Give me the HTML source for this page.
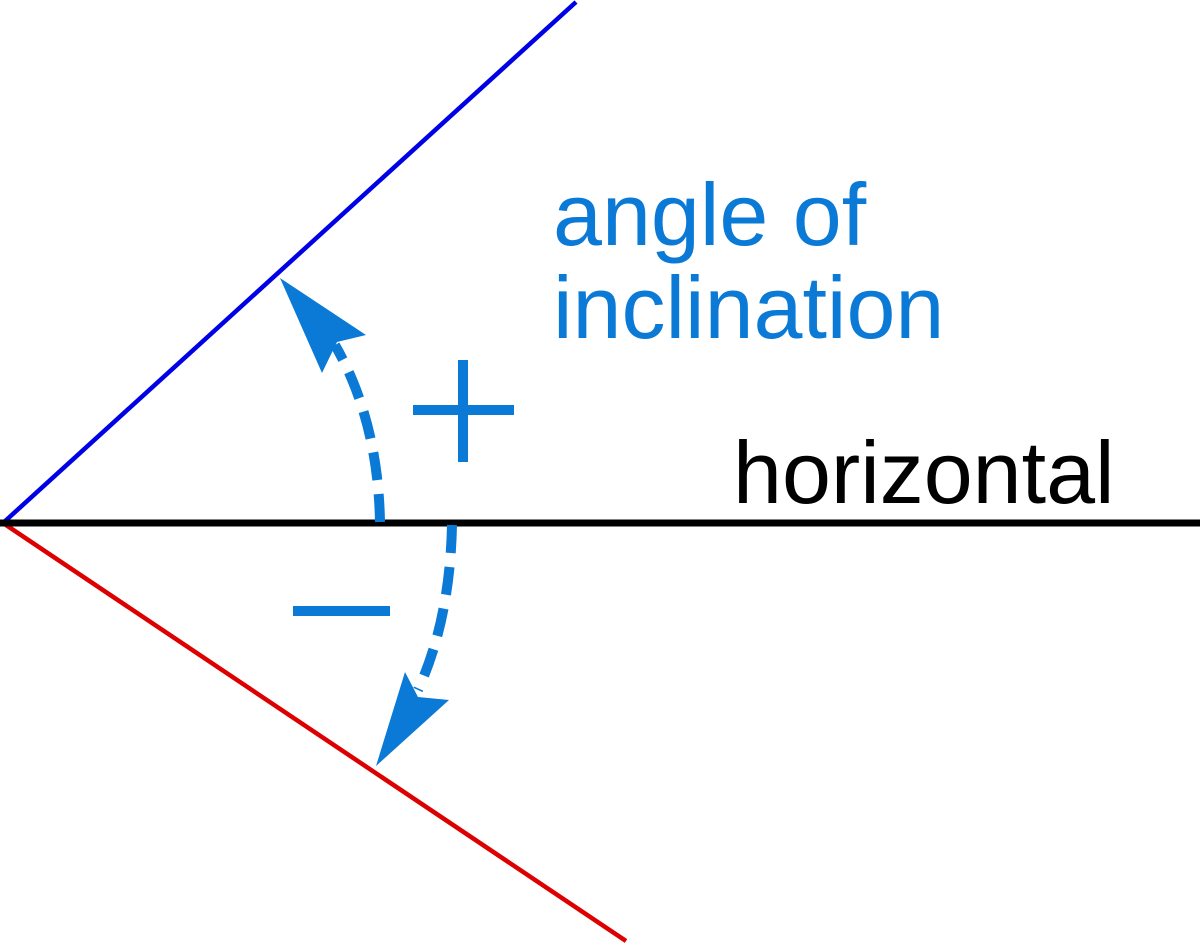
<!DOCTYPE html>
<html><head><meta charset="utf-8"><style>html,body{margin:0;padding:0;background:#fff;width:1200px;height:945px;overflow:hidden}</style></head>
<body>
<svg width="1200" height="945" viewBox="0 0 1200 945" xmlns="http://www.w3.org/2000/svg">
<line x1="3" y1="523" x2="576" y2="2" stroke="#0000e6" stroke-width="4.5"/>
<line x1="3" y1="523" x2="626" y2="941" stroke="#dd0000" stroke-width="4.5"/>
<line x1="0" y1="523" x2="1200" y2="523" stroke="#000" stroke-width="7"/>
<path d="M380,522 Q378,420 335,345" fill="none" stroke="#0a7ad6" stroke-width="10" stroke-dasharray="28,14"/>
<polygon points="280,278 366,335 337,342 322,373" fill="#0a7ad6"/>
<path d="M452,525 Q450,620 418,690" fill="none" stroke="#0a7ad6" stroke-width="10" stroke-dasharray="28,14"/>
<polygon points="376,766 405,672 418,697 449,700" fill="#0a7ad6"/>
<rect x="413" y="405" width="101" height="10" fill="#0a7ad6"/>
<rect x="458" y="360" width="10" height="102" fill="#0a7ad6"/>
<rect x="293" y="606" width="97" height="10" fill="#0a7ad6"/>
<g font-family="Liberation Sans, sans-serif" font-size="88">
<text x="553" y="245" fill="#0a7ad6">angle of</text>
<text x="553" y="338" fill="#0a7ad6">inclination</text>
<text x="733" y="503" fill="#000">horizontal</text>
</g>
</svg>
</body></html>
